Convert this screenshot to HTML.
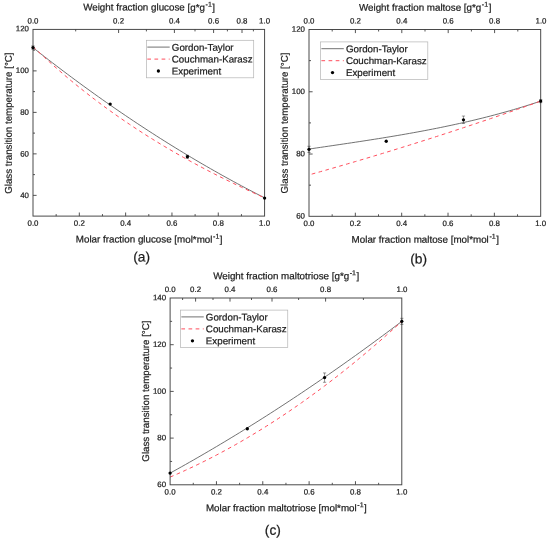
<!DOCTYPE html>
<html><head><meta charset="utf-8"><title>Glass transition temperature of sugar mixtures</title>
<style>
html,body{margin:0;padding:0;background:#fff}
svg{display:block;font-family:'Liberation Sans', Arial, sans-serif}
text{fill:#1c1c1c;stroke:#1c1c1c;stroke-width:4.4px;stroke-linejoin:round}
</style></head>
<body>
<svg width="550" height="542" viewBox="0 0 550 542">
<rect width="550" height="542" fill="#fff"/>
<path d="M33,47.66 L36.86,50.7 L40.72,53.72 L44.58,56.73 L48.44,59.72 L52.3,62.69 L56.16,65.64 L60.02,68.58 L63.88,71.49 L67.74,74.39 L71.6,77.27 L75.46,80.13 L79.32,82.97 L83.18,85.8 L87.04,88.6 L90.9,91.39 L94.76,94.16 L98.62,96.91 L102.48,99.64 L106.34,102.36 L110.2,105.05 L114.06,107.73 L117.92,110.39 L121.78,113.03 L125.64,115.65 L129.5,118.26 L133.36,120.84 L137.22,123.41 L141.08,125.96 L144.94,128.49 L148.8,131 L152.66,133.49 L156.52,135.97 L160.38,138.43 L164.24,140.87 L168.1,143.29 L171.96,145.69 L175.82,148.07 L179.68,150.44 L183.54,152.79 L187.4,155.11 L191.26,157.43 L195.12,159.72 L198.98,161.99 L202.84,164.25 L206.7,166.48 L210.56,168.7 L214.42,170.9 L218.28,173.09 L222.14,175.25 L226,177.4 L229.86,179.52 L233.72,181.63 L237.58,183.72 L241.44,185.8 L245.3,187.85 L249.16,189.89 L253.02,191.9 L256.88,193.9 L260.74,195.88 L264.6,197.84" fill="none" stroke="#5e5e5e" stroke-width="0.88"/>
<path d="M33,46.56 L36.86,50.26 L40.72,53.9 L44.58,57.49 L48.44,61.02 L52.3,64.49 L56.16,67.91 L60.02,71.28 L63.88,74.6 L67.74,77.88 L71.6,81.1 L75.46,84.27 L79.32,87.4 L83.18,90.49 L87.04,93.53 L90.9,96.53 L94.76,99.48 L98.62,102.4 L102.48,105.27 L106.34,108.1 L110.2,110.9 L114.06,113.65 L117.92,116.37 L121.78,119.05 L125.64,121.69 L129.5,124.3 L133.36,126.88 L137.22,129.42 L141.08,131.92 L144.94,134.4 L148.8,136.84 L152.66,139.24 L156.52,141.62 L160.38,143.97 L164.24,146.28 L168.1,148.57 L171.96,150.83 L175.82,153.06 L179.68,155.26 L183.54,157.44 L187.4,159.58 L191.26,161.71 L195.12,163.8 L198.98,165.87 L202.84,167.92 L206.7,169.95 L210.56,171.95 L214.42,173.93 L218.28,175.88 L222.14,177.82 L226,179.73 L229.86,181.62 L233.72,183.5 L237.58,185.35 L241.44,187.19 L245.3,189.01 L249.16,190.81 L253.02,192.59 L256.88,194.36 L260.74,196.11 L264.6,197.84" fill="none" stroke="#ff4d5c" stroke-width="1.0" stroke-dasharray="3.7 3.45"/>
<rect x="33" y="29.4" width="231.6" height="186.7" fill="none" stroke="#414141" stroke-width="0.95"/>
<path d="M56.16,216.1v-2.0 M79.32,216.1v-3.6 M102.48,216.1v-2.0 M125.64,216.1v-3.6 M148.8,216.1v-2.0 M171.96,216.1v-3.6 M195.12,216.1v-2.0 M218.28,216.1v-3.6 M241.44,216.1v-2.0 M75.7,29.4v2.0 M118.6,29.4v3.6 M146.4,29.4v2.0 M174.4,29.4v3.6 M195,29.4v2.0 M213.6,29.4v3.6 M227.4,29.4v2.0 M242,29.4v3.6 M253.4,29.4v2.0 M33,195.36h3.6 M33,174.61h2.0 M33,153.87h3.6 M33,133.12h2.0 M33,112.38h3.6 M33,91.63h2.0 M33,70.89h3.6 M33,50.14h2.0" fill="none" stroke="#414141" stroke-width="0.9"/>
<text transform="translate(33,225.8) rotate(0.04) scale(0.05)" text-anchor="middle" font-size="158">0.0</text>
<text transform="translate(33,23.5) rotate(0.04) scale(0.05)" text-anchor="middle" font-size="158">0.0</text>
<text transform="translate(79.32,225.8) rotate(0.04) scale(0.05)" text-anchor="middle" font-size="158">0.2</text>
<text transform="translate(118.6,23.5) rotate(0.04) scale(0.05)" text-anchor="middle" font-size="158">0.2</text>
<text transform="translate(125.64,225.8) rotate(0.04) scale(0.05)" text-anchor="middle" font-size="158">0.4</text>
<text transform="translate(174.4,23.5) rotate(0.04) scale(0.05)" text-anchor="middle" font-size="158">0.4</text>
<text transform="translate(171.96,225.8) rotate(0.04) scale(0.05)" text-anchor="middle" font-size="158">0.6</text>
<text transform="translate(213.6,23.5) rotate(0.04) scale(0.05)" text-anchor="middle" font-size="158">0.6</text>
<text transform="translate(218.28,225.8) rotate(0.04) scale(0.05)" text-anchor="middle" font-size="158">0.8</text>
<text transform="translate(242,23.5) rotate(0.04) scale(0.05)" text-anchor="middle" font-size="158">0.8</text>
<text transform="translate(264.6,225.8) rotate(0.04) scale(0.05)" text-anchor="middle" font-size="158">1.0</text>
<text transform="translate(264.6,23.5) rotate(0.04) scale(0.05)" text-anchor="middle" font-size="158">1.0</text>
<text transform="translate(29,198.11) rotate(0.04) scale(0.05)" text-anchor="end" font-size="158">40</text>
<text transform="translate(29,156.42) rotate(0.04) scale(0.05)" text-anchor="end" font-size="158">60</text>
<text transform="translate(29,114.73) rotate(0.04) scale(0.05)" text-anchor="end" font-size="158">80</text>
<text transform="translate(29,73.04) rotate(0.04) scale(0.05)" text-anchor="end" font-size="158">100</text>
<text transform="translate(29,31.35) rotate(0.04) scale(0.05)" text-anchor="end" font-size="158">120</text>
<text transform="translate(149.2,242.6) rotate(0.04) scale(0.05)" text-anchor="middle" font-size="196">Molar fraction glucose [mol*mol<tspan font-size="141.12" dx="12" dy="-80">-1</tspan><tspan dx="10" dy="80">]</tspan></text>
<text transform="translate(149.1,10.6) rotate(0.04) scale(0.05)" text-anchor="middle" font-size="196">Weight fraction glucose [g*g<tspan font-size="141.12" dx="12" dy="-80">-1</tspan><tspan dx="10" dy="80">]</tspan></text>
<text transform="translate(11.7,123.15) rotate(-89.96) scale(0.05)" text-anchor="middle" font-size="194.82">Glass transition temperature [°C]</text>
<path d="M33,45.89V49.21M31.4,45.89h3.2M31.4,49.21h3.2" stroke="#333" stroke-width="0.5" fill="none"/>
<circle cx="33" cy="47.55" r="1.65" fill="#000"/>
<circle cx="110.19" cy="104.08" r="1.65" fill="#000"/>
<path d="M187.41,155.32V158.22M185.81,155.32h3.2M185.81,158.22h3.2" stroke="#333" stroke-width="0.5" fill="none"/>
<circle cx="187.41" cy="156.77" r="1.65" fill="#000"/>
<circle cx="264.6" cy="198.05" r="1.65" fill="#000"/>
<rect x="146.4" y="40.3" width="107.3" height="37.5" fill="#fff" stroke="#b4b4b4" stroke-width="0.7"/>
<path d="M147.3,47.1h22.4" stroke="#5e5e5e" stroke-width="0.88" fill="none"/>
<path d="M147.3,59.1h22.4" stroke="#ff4d5c" stroke-width="1.0" stroke-dasharray="3.7 3.45" fill="none"/>
<circle cx="158.4" cy="71" r="1.65" fill="#000"/>
<text transform="translate(171.8,50.7) rotate(0.04) scale(0.05)" text-anchor="start" font-size="195">Gordon-Taylor</text>
<text transform="translate(171.8,62.5) rotate(0.04) scale(0.05)" text-anchor="start" font-size="195">Couchman-Karasz</text>
<text transform="translate(171.8,74.4) rotate(0.04) scale(0.05)" text-anchor="start" font-size="195">Experiment</text>
<text transform="translate(141.7,261.5) rotate(0.04) scale(0.05)" text-anchor="middle" font-size="276">(a)</text>
<path d="M309,149.05 L312.86,148.49 L316.72,147.92 L320.58,147.36 L324.45,146.79 L328.31,146.23 L332.17,145.66 L336.03,145.09 L339.89,144.52 L343.75,143.95 L347.62,143.38 L351.48,142.8 L355.34,142.21 L359.2,141.63 L363.06,141.04 L366.93,140.44 L370.79,139.84 L374.65,139.23 L378.51,138.62 L382.37,138 L386.23,137.37 L390.1,136.73 L393.96,136.09 L397.82,135.43 L401.68,134.77 L405.54,134.1 L409.4,133.42 L413.27,132.72 L417.13,132.02 L420.99,131.31 L424.85,130.58 L428.71,129.84 L432.57,129.09 L436.44,128.33 L440.3,127.55 L444.16,126.76 L448.02,125.95 L451.88,125.13 L455.74,124.29 L459.61,123.44 L463.47,122.57 L467.33,121.68 L471.19,120.78 L475.05,119.86 L478.91,118.92 L482.78,117.97 L486.64,116.99 L490.5,116 L494.36,114.98 L498.22,113.95 L502.08,112.89 L505.95,111.82 L509.81,110.72 L513.67,109.6 L517.53,108.46 L521.39,107.29 L525.25,106.1 L529.12,104.89 L532.98,103.65 L536.84,102.39 L540.7,101.11" fill="none" stroke="#5e5e5e" stroke-width="0.88"/>
<path d="M309,174.89 L312.86,173.81 L316.72,172.72 L320.58,171.63 L324.45,170.53 L328.31,169.43 L332.17,168.32 L336.03,167.21 L339.89,166.09 L343.75,164.97 L347.62,163.85 L351.48,162.71 L355.34,161.58 L359.2,160.43 L363.06,159.29 L366.93,158.13 L370.79,156.98 L374.65,155.81 L378.51,154.65 L382.37,153.47 L386.23,152.3 L390.1,151.12 L393.96,149.93 L397.82,148.74 L401.68,147.54 L405.54,146.34 L409.4,145.13 L413.27,143.92 L417.13,142.7 L420.99,141.48 L424.85,140.25 L428.71,139.02 L432.57,137.78 L436.44,136.54 L440.3,135.29 L444.16,134.04 L448.02,132.78 L451.88,131.52 L455.74,130.25 L459.61,128.98 L463.47,127.7 L467.33,126.42 L471.19,125.13 L475.05,123.84 L478.91,122.54 L482.78,121.24 L486.64,119.93 L490.5,118.62 L494.36,117.3 L498.22,115.98 L502.08,114.65 L505.95,113.32 L509.81,111.98 L513.67,110.64 L517.53,109.3 L521.39,107.94 L525.25,106.59 L529.12,105.22 L532.98,103.86 L536.84,102.48 L540.7,101.11" fill="none" stroke="#ff4d5c" stroke-width="1.0" stroke-dasharray="3.7 3.45" stroke-dashoffset="4.35"/>
<rect x="309" y="29.5" width="231.7" height="186.8" fill="none" stroke="#414141" stroke-width="0.95"/>
<path d="M332.17,216.3v-2.0 M355.34,216.3v-3.6 M378.51,216.3v-2.0 M401.68,216.3v-3.6 M424.85,216.3v-2.0 M448.02,216.3v-3.6 M471.19,216.3v-2.0 M494.36,216.3v-3.6 M517.53,216.3v-2.0 M332.2,29.5v2.0 M355.4,29.5v3.6 M378.6,29.5v2.0 M401.8,29.5v3.6 M425,29.5v2.0 M448.2,29.5v3.6 M471.4,29.5v2.0 M494.6,29.5v3.6 M517.8,29.5v2.0 M309,185.17h2.0 M309,154.03h3.6 M309,122.9h2.0 M309,91.77h3.6 M309,60.63h2.0" fill="none" stroke="#414141" stroke-width="0.9"/>
<text transform="translate(309,226) rotate(0.04) scale(0.05)" text-anchor="middle" font-size="158">0.0</text>
<text transform="translate(309,23.6) rotate(0.04) scale(0.05)" text-anchor="middle" font-size="158">0.0</text>
<text transform="translate(355.34,226) rotate(0.04) scale(0.05)" text-anchor="middle" font-size="158">0.2</text>
<text transform="translate(355.4,23.6) rotate(0.04) scale(0.05)" text-anchor="middle" font-size="158">0.2</text>
<text transform="translate(401.68,226) rotate(0.04) scale(0.05)" text-anchor="middle" font-size="158">0.4</text>
<text transform="translate(401.8,23.6) rotate(0.04) scale(0.05)" text-anchor="middle" font-size="158">0.4</text>
<text transform="translate(448.02,226) rotate(0.04) scale(0.05)" text-anchor="middle" font-size="158">0.6</text>
<text transform="translate(448.2,23.6) rotate(0.04) scale(0.05)" text-anchor="middle" font-size="158">0.6</text>
<text transform="translate(494.36,226) rotate(0.04) scale(0.05)" text-anchor="middle" font-size="158">0.8</text>
<text transform="translate(494.6,23.6) rotate(0.04) scale(0.05)" text-anchor="middle" font-size="158">0.8</text>
<text transform="translate(540.7,226) rotate(0.04) scale(0.05)" text-anchor="middle" font-size="158">1.0</text>
<text transform="translate(541,23.6) rotate(0.04) scale(0.05)" text-anchor="middle" font-size="158">1.0</text>
<text transform="translate(305,218.55) rotate(0.04) scale(0.05)" text-anchor="end" font-size="158">60</text>
<text transform="translate(305,156.28) rotate(0.04) scale(0.05)" text-anchor="end" font-size="158">80</text>
<text transform="translate(305,94.02) rotate(0.04) scale(0.05)" text-anchor="end" font-size="158">100</text>
<text transform="translate(305,31.75) rotate(0.04) scale(0.05)" text-anchor="end" font-size="158">120</text>
<text transform="translate(425.25,242.8) rotate(0.04) scale(0.05)" text-anchor="middle" font-size="196">Molar fraction maltose [mol*mol<tspan font-size="141.12" dx="12" dy="-80">-1</tspan><tspan dx="10" dy="80">]</tspan></text>
<text transform="translate(425.15,10.7) rotate(0.04) scale(0.05)" text-anchor="middle" font-size="196">Weight fraction maltose [g*g<tspan font-size="141.12" dx="12" dy="-80">-1</tspan><tspan dx="10" dy="80">]</tspan></text>
<text transform="translate(287.7,123.05) rotate(-89.96) scale(0.05)" text-anchor="middle" font-size="194.24">Glass transition temperature [°C]</text>
<path d="M309,146.25V152.48M307.4,146.25h3.2M307.4,152.48h3.2" stroke="#333" stroke-width="0.5" fill="none"/>
<circle cx="309" cy="149.36" r="1.65" fill="#000"/>
<circle cx="386.23" cy="141.27" r="1.65" fill="#000"/>
<path d="M463.47,116.05V123.52M461.87,116.05h3.2M461.87,123.52h3.2" stroke="#333" stroke-width="0.5" fill="none"/>
<circle cx="463.47" cy="119.79" r="1.65" fill="#000"/>
<path d="M540.7,99.55V102.66M539.1,99.55h3.2M539.1,102.66h3.2" stroke="#333" stroke-width="0.5" fill="none"/>
<circle cx="540.7" cy="101.11" r="1.65" fill="#000"/>
<rect x="320.5" y="41.9" width="107.3" height="37.5" fill="#fff" stroke="#b4b4b4" stroke-width="0.7"/>
<path d="M321.4,48.7h22.4" stroke="#5e5e5e" stroke-width="0.88" fill="none"/>
<path d="M321.4,60.7h22.4" stroke="#ff4d5c" stroke-width="1.0" stroke-dasharray="3.7 3.45" fill="none"/>
<circle cx="332.5" cy="72.6" r="1.65" fill="#000"/>
<text transform="translate(345.9,52.3) rotate(0.04) scale(0.05)" text-anchor="start" font-size="195">Gordon-Taylor</text>
<text transform="translate(345.9,64.1) rotate(0.04) scale(0.05)" text-anchor="start" font-size="195">Couchman-Karasz</text>
<text transform="translate(345.9,76) rotate(0.04) scale(0.05)" text-anchor="start" font-size="195">Experiment</text>
<text transform="translate(418.6,263.6) rotate(0.04) scale(0.05)" text-anchor="middle" font-size="276">(b)</text>
<path d="M170.1,473.12 L173.96,470.99 L177.82,468.84 L181.69,466.68 L185.55,464.5 L189.41,462.31 L193.27,460.11 L197.13,457.89 L200.99,455.66 L204.85,453.42 L208.72,451.16 L212.58,448.89 L216.44,446.61 L220.3,444.31 L224.16,442 L228.03,439.68 L231.89,437.34 L235.75,435 L239.61,432.63 L243.47,430.26 L247.33,427.87 L251.19,425.46 L255.06,423.05 L258.92,420.62 L262.78,418.18 L266.64,415.72 L270.5,413.25 L274.37,410.77 L278.23,408.27 L282.09,405.76 L285.95,403.24 L289.81,400.7 L293.67,398.15 L297.54,395.59 L301.4,393.01 L305.26,390.42 L309.12,387.82 L312.98,385.2 L316.84,382.57 L320.71,379.93 L324.57,377.28 L328.43,374.61 L332.29,371.92 L336.15,369.23 L340.01,366.52 L343.88,363.79 L347.74,361.06 L351.6,358.31 L355.46,355.55 L359.32,352.77 L363.18,349.98 L367.05,347.18 L370.91,344.36 L374.77,341.53 L378.63,338.69 L382.49,335.83 L386.35,332.96 L390.22,330.08 L394.08,327.18 L397.94,324.27 L401.8,321.35" fill="none" stroke="#5e5e5e" stroke-width="0.88"/>
<path d="M170.1,477.09 L173.96,475.43 L177.82,473.74 L181.69,472.01 L185.55,470.26 L189.41,468.47 L193.27,466.65 L197.13,464.8 L200.99,462.92 L204.85,461 L208.72,459.05 L212.58,457.08 L216.44,455.07 L220.3,453.02 L224.16,450.95 L228.03,448.85 L231.89,446.71 L235.75,444.54 L239.61,442.34 L243.47,440.11 L247.33,437.85 L251.19,435.55 L255.06,433.22 L258.92,430.87 L262.78,428.48 L266.64,426.06 L270.5,423.6 L274.37,421.12 L278.23,418.6 L282.09,416.05 L285.95,413.47 L289.81,410.86 L293.67,408.22 L297.54,405.54 L301.4,402.84 L305.26,400.1 L309.12,397.33 L312.98,394.53 L316.84,391.69 L320.71,388.83 L324.57,385.93 L328.43,383 L332.29,380.04 L336.15,377.05 L340.01,374.03 L343.88,370.97 L347.74,367.89 L351.6,364.77 L355.46,361.62 L359.32,358.44 L363.18,355.22 L367.05,351.98 L370.91,348.7 L374.77,345.39 L378.63,342.05 L382.49,338.68 L386.35,335.28 L390.22,331.84 L394.08,328.38 L397.94,324.88 L401.8,321.35" fill="none" stroke="#ff4d5c" stroke-width="1.0" stroke-dasharray="3.7 3.45"/>
<rect x="170.1" y="298" width="231.7" height="186.8" fill="none" stroke="#414141" stroke-width="0.95"/>
<path d="M193.27,484.8v-2.0 M216.44,484.8v-3.6 M239.61,484.8v-2.0 M262.78,484.8v-3.6 M285.95,484.8v-2.0 M309.12,484.8v-3.6 M332.29,484.8v-2.0 M355.46,484.8v-3.6 M378.63,484.8v-2.0 M182.6,298v2.0 M195.6,298v3.6 M213,298v2.0 M230,298v3.6 M251.5,298v2.0 M272,298v3.6 M298.6,298v2.0 M325.6,298v3.6 M363.4,298v2.0 M170.1,461.45h2.0 M170.1,438.1h3.6 M170.1,414.75h2.0 M170.1,391.4h3.6 M170.1,368.05h2.0 M170.1,344.7h3.6 M170.1,321.35h2.0" fill="none" stroke="#414141" stroke-width="0.9"/>
<text transform="translate(170.1,494.5) rotate(0.04) scale(0.05)" text-anchor="middle" font-size="158">0.0</text>
<text transform="translate(170.2,292.1) rotate(0.04) scale(0.05)" text-anchor="middle" font-size="158">0.0</text>
<text transform="translate(216.44,494.5) rotate(0.04) scale(0.05)" text-anchor="middle" font-size="158">0.2</text>
<text transform="translate(195.6,292.1) rotate(0.04) scale(0.05)" text-anchor="middle" font-size="158">0.2</text>
<text transform="translate(262.78,494.5) rotate(0.04) scale(0.05)" text-anchor="middle" font-size="158">0.4</text>
<text transform="translate(230,292.1) rotate(0.04) scale(0.05)" text-anchor="middle" font-size="158">0.4</text>
<text transform="translate(309.12,494.5) rotate(0.04) scale(0.05)" text-anchor="middle" font-size="158">0.6</text>
<text transform="translate(272,292.1) rotate(0.04) scale(0.05)" text-anchor="middle" font-size="158">0.6</text>
<text transform="translate(355.46,494.5) rotate(0.04) scale(0.05)" text-anchor="middle" font-size="158">0.8</text>
<text transform="translate(325.6,292.1) rotate(0.04) scale(0.05)" text-anchor="middle" font-size="158">0.8</text>
<text transform="translate(401.8,494.5) rotate(0.04) scale(0.05)" text-anchor="middle" font-size="158">1.0</text>
<text transform="translate(402,292.1) rotate(0.04) scale(0.05)" text-anchor="middle" font-size="158">1.0</text>
<text transform="translate(166.1,487.05) rotate(0.04) scale(0.05)" text-anchor="end" font-size="158">60</text>
<text transform="translate(166.1,440.35) rotate(0.04) scale(0.05)" text-anchor="end" font-size="158">80</text>
<text transform="translate(166.1,393.65) rotate(0.04) scale(0.05)" text-anchor="end" font-size="158">100</text>
<text transform="translate(166.1,346.95) rotate(0.04) scale(0.05)" text-anchor="end" font-size="158">120</text>
<text transform="translate(166.1,300.25) rotate(0.04) scale(0.05)" text-anchor="end" font-size="158">140</text>
<text transform="translate(286.35,511.3) rotate(0.04) scale(0.05)" text-anchor="middle" font-size="196">Molar fraction maltotriose [mol*mol<tspan font-size="141.12" dx="12" dy="-80">-1</tspan><tspan dx="10" dy="80">]</tspan></text>
<text transform="translate(286.25,279.2) rotate(0.04) scale(0.05)" text-anchor="middle" font-size="196">Weight fraction maltotriose [g*g<tspan font-size="141.12" dx="12" dy="-80">-1</tspan><tspan dx="10" dy="80">]</tspan></text>
<text transform="translate(149,391.1) rotate(-89.96) scale(0.05)" text-anchor="middle" font-size="194.43">Glass transition temperature [°C]</text>
<circle cx="170.1" cy="473.12" r="1.65" fill="#000"/>
<circle cx="247.33" cy="428.76" r="1.65" fill="#000"/>
<path d="M324.57,372.95V382.29M322.97,372.95h3.2M322.97,382.29h3.2" stroke="#333" stroke-width="0.5" fill="none"/>
<circle cx="324.57" cy="377.62" r="1.65" fill="#000"/>
<path d="M401.8,318.31V324.39M400.2,318.31h3.2M400.2,324.39h3.2" stroke="#333" stroke-width="0.5" fill="none"/>
<circle cx="401.8" cy="321.35" r="1.65" fill="#000"/>
<rect x="180.45" y="310.1" width="107.3" height="37.5" fill="#fff" stroke="#b4b4b4" stroke-width="0.7"/>
<path d="M181.35,316.9h22.4" stroke="#5e5e5e" stroke-width="0.88" fill="none"/>
<path d="M181.35,328.9h22.4" stroke="#ff4d5c" stroke-width="1.0" stroke-dasharray="3.7 3.45" fill="none"/>
<circle cx="192.45" cy="340.8" r="1.65" fill="#000"/>
<text transform="translate(205.85,320.5) rotate(0.04) scale(0.05)" text-anchor="start" font-size="195">Gordon-Taylor</text>
<text transform="translate(205.85,332.3) rotate(0.04) scale(0.05)" text-anchor="start" font-size="195">Couchman-Karasz</text>
<text transform="translate(205.85,344.2) rotate(0.04) scale(0.05)" text-anchor="start" font-size="195">Experiment</text>
<text transform="translate(272.9,534.7) rotate(0.04) scale(0.05)" text-anchor="middle" font-size="276">(c)</text>
</svg>
</body></html>
